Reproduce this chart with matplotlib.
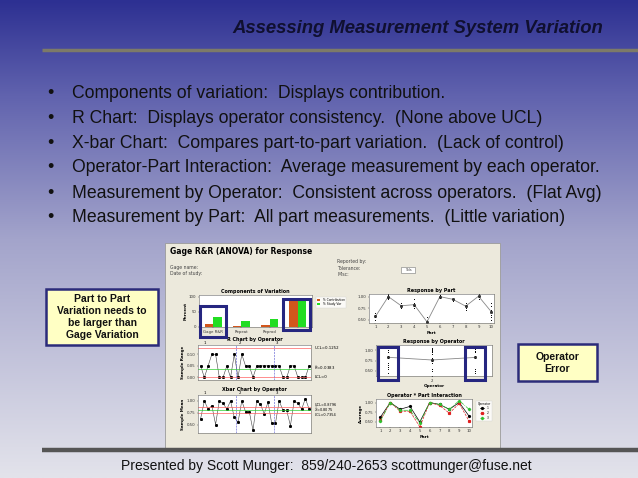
import numpy as np
import matplotlib.pyplot as plt
from matplotlib.patches import Rectangle
from matplotlib.colors import LinearSegmentedColormap

W, H = 638, 478

title = 'Assessing Measurement System Variation'
bullets = ['Components of variation:  Displays contribution.',
           'R Chart:  Displays operator consistency.  (None above UCL)',
           'X-bar Chart:  Compares part-to-part variation.  (Lack of control)',
           'Operator-Part Interaction:  Average measurement by each operator.',
           'Measurement by Operator:  Consistent across operators.  (Flat Avg)',
           'Measurement by Part:  All part measurements.  (Little variation)']
footer = 'Presented by Scott Munger:  859/240-2653 scottmunger@fuse.net'
note_left = 'Part to Part\nVariation needs to\nbe larger than\nGage Variation'
note_right = 'Operator\nError'

# gage R&R study (3 operators x 10 parts, 2 trials)
components = ['Gage R&R', 'Repeat', 'Reprod', 'Part-to-Part']
pct_contribution = [11, 4, 7.5, 89]
pct_study_var = [33, 19, 27, 94]

parts = np.arange(1, 11)
operators = [1, 2, 3]
xbar_op1 = [0.625, 1.0, 0.825, 0.9, 0.5, 1.0, 0.95, 0.825, 1.0, 0.65]
xbar_op2 = [0.55, 1.0, 0.775, 0.775, 0.375, 1.0, 0.925, 0.725, 0.975, 0.525]
xbar_op3 = [0.525, 1.0, 0.8, 0.8, 0.475, 1.0, 0.95, 0.825, 1.05, 0.825]
range_op1 = [0.05, 0, 0.05, 0.10, 0.10, 0, 0, 0.05, 0, 0.10]
range_op2 = [0, 0.10, 0.05, 0.05, 0, 0.05, 0.05, 0.05, 0.05, 0.05]
range_op3 = [0.05, 0.05, 0, 0, 0.05, 0.05, 0, 0, 0, 0.05]
ucl_r, rbar, lcl_r = 0.1252, 0.0383, 0.0
ucl_x, xbarbar, lcl_x = 0.8796, 0.8075, 0.7354

xbar = np.array([xbar_op1, xbar_op2, xbar_op3])
rng = np.array([range_op1, range_op2, range_op3])
trial_lo = xbar - rng / 2
trial_hi = xbar + rng / 2


def box(x0, y0, x1, y1):
    return [x0 / W, 1 - y1 / H, (x1 - x0) / W, (y1 - y0) / H]


def mt_style(ax):
    ax.set_facecolor('white')
    ax.tick_params(labelsize=2.8, length=1, width=0.3, pad=0.8, colors='#333333')
    for s in ax.spines.values():
        s.set_linewidth(0.4)
        s.set_color('#666666')


fig = plt.figure(figsize=(6.38, 4.78), dpi=100)

# slide background
bg = fig.add_axes([0, 0, 1, 1])
cmap = LinearSegmentedColormap.from_list('bg', [(0, '#2d3092'), (0.2, '#6163ae'),
                                                (0.5, '#a3a4cb'), (1, '#e3e3eb')])
bg.imshow(np.linspace(0, 1, 256).reshape(-1, 1), extent=[0, W, H, 0], aspect='auto', cmap=cmap)
bg.set_xlim(0, W)
bg.set_ylim(H, 0)
bg.axis('off')

bg.text(603, 28, title, ha='right', va='center', fontsize=13.3, fontweight='bold',
        fontstyle='italic', color='#101030', family='Liberation Sans')
bg.plot([42, 638], [50, 50], color='#7d7a68', lw=2.5, solid_capstyle='butt')
for i, b in enumerate(bullets):
    y = 93 + 25 * i
    bg.text(47, y, '•', fontsize=13, va='center', color='#111111', family='Liberation Sans')
    bg.text(72, y, b, fontsize=12.7, va='center', color='#111111', family='Liberation Sans')

# minitab panel
bg.add_patch(Rectangle((165, 243), 335, 205, fc='#ece9dc', ec='#9a9a9a', lw=0.6))
bg.text(170, 252, 'Gage R&R (ANOVA) for Response', fontsize=5.5, fontweight='bold', va='center')
bg.text(170, 267, 'Gage name:', fontsize=3.3, va='center', color='#444444')
bg.text(170, 274, 'Date of study:', fontsize=3.3, va='center', color='#444444')
bg.text(337, 262, 'Reported by:', fontsize=3.3, va='center', color='#444444')
bg.text(337, 268, 'Tolerance:', fontsize=3.3, va='center', color='#444444')
bg.text(337, 274, 'Misc:', fontsize=3.3, va='center', color='#444444')
bg.add_patch(Rectangle((401, 267), 14, 6, fc='white', ec='#777777', lw=0.4))
bg.text(408, 270, 'Tols', fontsize=2.6, ha='center', va='center', color='#444444')

bg.plot([42, 638], [450, 450], color='#555555', lw=3.2, solid_capstyle='butt')
bg.text(326, 466, footer, ha='center', va='center', fontsize=10, color='#111111',
        family='Liberation Sans')

# components of variation
ax = fig.add_axes(box(199, 295, 312, 327))
mt_style(ax)
xc = np.arange(len(components))
ax.bar(xc - 0.15, pct_contribution, 0.3, color='#d2561c', label='% Contribution')
ax.bar(xc + 0.15, pct_study_var, 0.3, color='#22dd22', label='% Study Var')
ax.set_xlim(-0.5, 3.5)
ax.set_ylim(0, 105)
ax.set_yticks([0, 50, 100])
ax.set_xticks(xc)
ax.set_xticklabels(components)
ax.set_ylabel('Percent', fontsize=3, fontweight='bold', labelpad=1)
ax.set_title('Components of Variation', fontsize=3.5, fontweight='bold', pad=1.5)
leg = ax.legend(loc='upper left', bbox_to_anchor=(1.02, 1.0), fontsize=2.2, handlelength=1,
                handleheight=0.8, borderpad=0.4, labelspacing=0.2, fancybox=False)
leg.get_frame().set_linewidth(0.3)

# R chart by operator
xs = np.arange(1, 31)
ax = fig.add_axes(box(198, 345, 311, 380))
mt_style(ax)
ax.plot(xs, rng.ravel(), color='#404040', lw=0.4, marker='s', ms=1.1, mfc='k', mec='k')
ax.axhline(ucl_r, color='#ff6060', lw=0.5)
ax.axhline(rbar, color='#30d030', lw=0.5)
ax.axhline(lcl_r, color='#ff6060', lw=0.5)
for xv in (10.5, 20.5):
    ax.axvline(xv, color='#5050d0', ls='--', lw=0.4)
ax.set_xlim(0.3, 30.5)
ax.set_ylim(-0.011, 0.14)
ax.set_yticks([0, 0.05, 0.10])
ax.set_yticklabels(['0.00', '0.05', '0.10'])
ax.set_xticks([])
ax.set_ylabel('Sample Range', fontsize=3, fontweight='bold', labelpad=1)
ax.set_title('R Chart by Operator', fontsize=3.5, fontweight='bold', pad=3)
for lab, yv in (('UCL=0.1252', ucl_r), (r'$\bar{R}$=0.0383', rbar), ('LCL=0', lcl_r)):
    ax.text(1.03, yv, lab, transform=ax.get_yaxis_transform(), fontsize=2.8, va='center')
for op, xv in zip(operators, (2, 11.5, 21.5)):
    ax.text(xv, 1.01, str(op), transform=ax.get_xaxis_transform(), fontsize=2.8,
            ha='center', va='bottom')

# Xbar chart by operator
ax = fig.add_axes(box(198, 395, 311, 433))
mt_style(ax)
ax.plot(xs, xbar.ravel(), color='#404040', lw=0.4, marker='s', ms=1.1, mfc='k', mec='k')
ax.axhline(ucl_x, color='#ff6060', lw=0.5)
ax.axhline(xbarbar, color='#30d030', lw=0.5)
ax.axhline(lcl_x, color='#ff6060', lw=0.5)
for xv in (10.5, 20.5):
    ax.axvline(xv, color='#5050d0', ls='--', lw=0.4)
ax.set_xlim(0.3, 30.5)
ax.set_ylim(0.32, 1.125)
ax.set_yticks([0.5, 0.75, 1.0])
ax.set_yticklabels(['0.50', '0.75', '1.00'])
ax.set_xticks([])
ax.set_ylabel('Sample Mean', fontsize=3, fontweight='bold', labelpad=1)
ax.set_title('Xbar Chart by Operator', fontsize=3.5, fontweight='bold', pad=3)
for lab, yv in (('UCL=0.8796', ucl_x + 0.035), (r'$\bar{\bar{X}}$=0.8075', xbarbar),
                ('LCL=0.7354', lcl_x - 0.035)):
    ax.text(1.03, yv, lab, transform=ax.get_yaxis_transform(), fontsize=2.5, va='center')
for op, xv in zip(operators, (2, 11.5, 21.5)):
    ax.text(xv, 1.01, str(op), transform=ax.get_xaxis_transform(), fontsize=2.8,
            ha='center', va='bottom')

# response by part
ax = fig.add_axes(box(369, 294, 494, 323))
mt_style(ax)
for p in range(10):
    vals = np.concatenate([trial_lo[:, p], trial_hi[:, p]])
    ax.scatter(np.full(vals.size, parts[p]), vals, s=0.5, c='k', lw=0)
ax.plot(parts, xbar.mean(axis=0), color='#888888', lw=0.6, marker='o', ms=1.8,
        mfc='#333333', mec='k', mew=0.3)
ax.set_xlim(0.5, 10.2)
ax.set_ylim(0.425, 1.057)
ax.set_xticks(parts)
ax.set_yticks([0.5, 0.75, 1.0])
ax.set_yticklabels(['0.50', '0.75', '1.00'])
ax.set_xlabel('Part', fontsize=3, fontweight='bold', labelpad=0.8)
ax.set_title('Response by Part', fontsize=3.5, fontweight='bold', pad=1.5)

# response by operator
ax = fig.add_axes(box(376, 345, 492, 376))
mt_style(ax)
for i, op in enumerate(operators):
    vals = np.concatenate([trial_lo[i], trial_hi[i]])
    ax.scatter(np.full(vals.size, op), vals, s=0.5, c='k', lw=0)
ax.plot(operators, xbar.mean(axis=1), color='#888888', lw=0.6, marker='o', ms=1.8,
        mfc='#333333', mec='k', mew=0.3)
ax.set_xlim(0.72, 3.38)
ax.set_ylim(0.375, 1.125)
ax.set_xticks([2])
ax.set_yticks([0.5, 0.75, 1.0])
ax.set_yticklabels(['0.50', '0.75', '1.00'])
ax.set_xlabel('Operator', fontsize=3, fontweight='bold', labelpad=0.8)
ax.set_title('Response by Operator', fontsize=3.5, fontweight='bold', pad=1.5)

# operator * part interaction
ax = fig.add_axes(box(376, 399, 472, 427))
mt_style(ax)
ax.plot(parts, xbar_op1, color='k', lw=0.5, marker='o', ms=1.3, label='1')
ax.plot(parts, xbar_op2, color='#e02020', lw=0.5, ls='--', marker='s', ms=1.3, label='2')
ax.plot(parts, xbar_op3, color='#30c030', lw=0.5, ls='-.', marker='D', ms=1.2, label='3')
ax.set_xlim(0.55, 10.3)
ax.set_ylim(0.37, 1.09)
ax.set_xticks(parts)
ax.set_yticks([0.5, 0.75, 1.0])
ax.set_yticklabels(['0.50', '0.75', '1.00'])
ax.set_xlabel('Part', fontsize=3, fontweight='bold', labelpad=0.8)
ax.set_ylabel('Average', fontsize=3, fontweight='bold', labelpad=1)
ax.set_title('Operator * Part Interaction', fontsize=3.5, fontweight='bold', pad=1.5)
leg = ax.legend(loc='upper left', bbox_to_anchor=(1.03, 1.0), title='Operator', fontsize=2.2,
                title_fontsize=2.2, handlelength=1.2, borderpad=0.4, labelspacing=0.2,
                fancybox=False)
leg.get_frame().set_linewidth(0.3)

# highlights and call-outs
top = fig.add_axes([0, 0, 1, 1])
top.set_facecolor('none')
top.set_xlim(0, W)
top.set_ylim(H, 0)
top.axis('off')
for x0, y0, x1, y1 in ((200, 306, 226, 337), (283, 299, 310, 330),
                       (378, 347, 398, 380), (465, 347, 485, 380)):
    top.add_patch(Rectangle((x0, y0), x1 - x0, y1 - y0, fill=False, ec='#262680', lw=2.2))
top.add_patch(Rectangle((46, 289), 112, 56, fc='#ffffc4', ec='#2b2b7a', lw=1.8))
top.text(102, 317.5, note_left, ha='center', va='center', fontsize=7.5, fontweight='bold',
         linespacing=1.25, color='#111111', family='Liberation Sans')
top.add_patch(Rectangle((518, 344), 79, 37, fc='#ffffc4', ec='#2b2b7a', lw=1.8))
top.text(557.5, 362.5, note_right, ha='center', va='center', fontsize=7.5, fontweight='bold',
         linespacing=1.25, color='#111111', family='Liberation Sans')

fig.savefig('out.png', dpi=100)
